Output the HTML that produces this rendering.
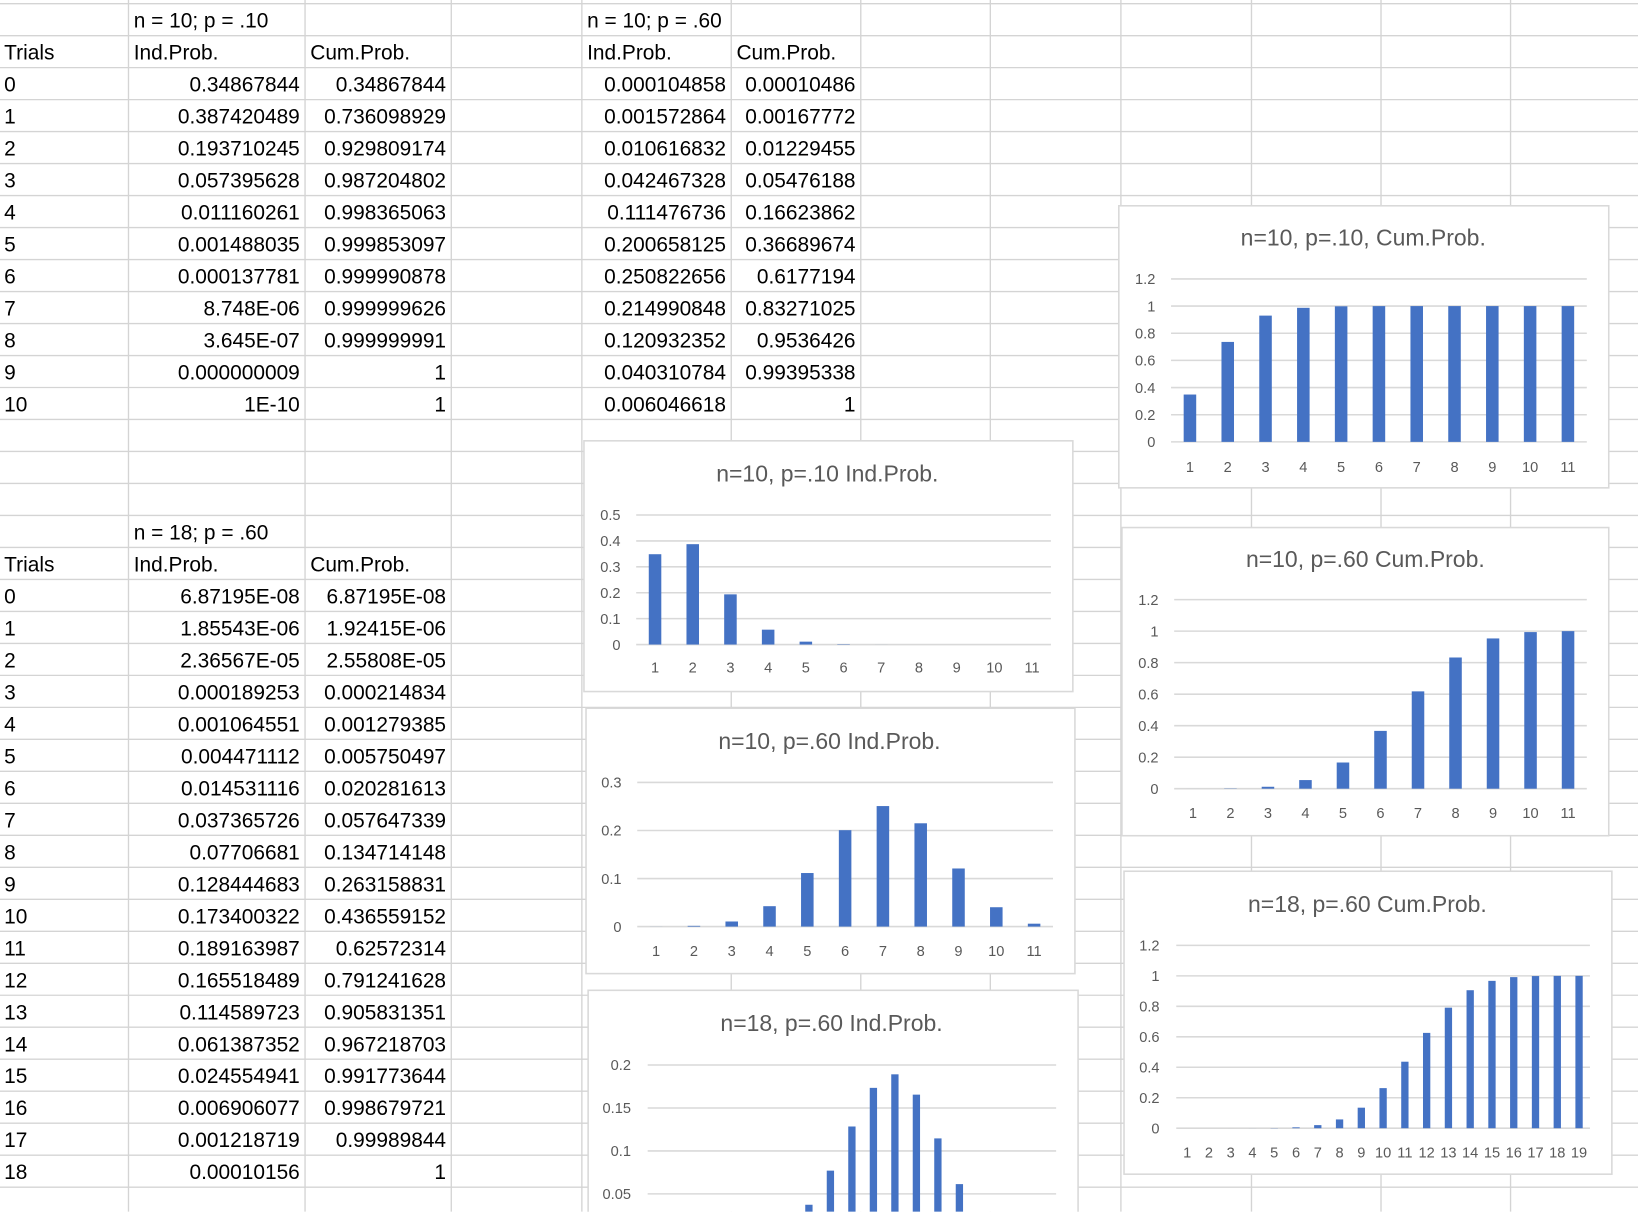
<!DOCTYPE html>
<html><head><meta charset="utf-8"><style>
html,body{margin:0;padding:0;background:#fff;overflow:hidden;width:1638px;height:1212px}
#root{position:absolute;left:0;top:0;width:1568px;height:1160px;transform:scale(1.04464);transform-origin:0 0;overflow:hidden}
svg{position:absolute;left:0;top:0}
text{font-family:"Liberation Sans",sans-serif}
</style></head><body>
<div id="root">
<svg id="s" width="1568" height="1160" viewBox="0 0 1568 1160" overflow="hidden"></svg>
</div>
<script>
// ---- table data ----
const trials10 = ["0","1","2","3","4","5","6","7","8","9","10"];
const ind10p10 = ["0.34867844","0.387420489","0.193710245","0.057395628","0.011160261","0.001488035","0.000137781","8.748E-06","3.645E-07","0.000000009","1E-10"];
const cum10p10 = ["0.34867844","0.736098929","0.929809174","0.987204802","0.998365063","0.999853097","0.999990878","0.999999626","0.999999991","1","1"];
const ind10p60 = ["0.000104858","0.001572864","0.010616832","0.042467328","0.111476736","0.200658125","0.250822656","0.214990848","0.120932352","0.040310784","0.006046618"];
const cum10p60 = ["0.00010486","0.00167772","0.01229455","0.05476188","0.16623862","0.36689674","0.6177194","0.83271025","0.9536426","0.99395338","1"];
const trials18 = ["0","1","2","3","4","5","6","7","8","9","10","11","12","13","14","15","16","17","18"];
const ind18p60 = ["6.87195E-08","1.85543E-06","2.36567E-05","0.000189253","0.001064551","0.004471112","0.014531116","0.037365726","0.07706681","0.128444683","0.173400322","0.189163987","0.165518489","0.114589723","0.061387352","0.024554941","0.006906077","0.001218719","0.00010156"];
const cum18p60 = ["6.87195E-08","1.92415E-06","2.55808E-05","0.000214834","0.001279385","0.005750497","0.020281613","0.057647339","0.134714148","0.263158831","0.436559152","0.62572314","0.791241628","0.905831351","0.967218703","0.991773644","0.998679721","0.99989844","1"];
// ---- chart data ----
const c1Values = [0.34867844,0.736098929,0.929809174,0.987204802,0.998365063,0.999853097,0.999990878,0.999999626,0.999999991,1,1];
const c2Values = [0.34867844,0.387420489,0.193710245,0.057395628,0.011160261,0.001488035,0.000137781,0.000008748,0.00000036,0.000000009,0.0000000001];
const c3Values = [0.000104858,0.001572864,0.010616832,0.042467328,0.111476736,0.200658125,0.250822656,0.214990848,0.120932352,0.040310784,0.006046618];
const c4Values = [0.0000000687,0.00000186,0.0000237,0.000189253,0.001064551,0.004471112,0.014531116,0.037365726,0.07706681,0.128444683,0.173400322,0.189163987,0.165518489,0.114589723,0.061387352,0.024554941,0.006906077,0.001218719,0.00010156];
const c5Values = [0.00010486,0.00167772,0.01229455,0.05476188,0.16623862,0.36689674,0.6177194,0.83271025,0.9536426,0.99395338,1];
const c6Values = [0.0000000687,0.00000192,0.0000256,0.000214834,0.001279385,0.005750497,0.020281613,0.057647339,0.134714148,0.263158831,0.436559152,0.62572314,0.791241628,0.905831351,0.967218703,0.991773644,0.998679721,0.99989844,1];
const ticksCum = ["0","0.2","0.4","0.6","0.8","1","1.2"];
const ticksInd10 = ["0","0.1","0.2","0.3","0.4","0.5"];
const ticksInd60 = ["0","0.1","0.2","0.3"];
const ticksInd18 = ["0","0.05","0.1","0.15","0.2"];

const NS="http://www.w3.org/2000/svg";
const svg=document.getElementById('s');
const LIMIT=1160;
function el(tag,attrs,parent){const e=document.createElementNS(NS,tag);for(const k in attrs)e.setAttribute(k,attrs[k]);(parent||svg).appendChild(e);return e;}

// grid
const colX=[123,292,432,557,700,824,948,1073,1198,1322,1446];
const RH=30.62, R0=3.5;
const grid=el('g',{});


colX.forEach(x=>el('line',{x1:x,y1:0,x2:x,y2:LIMIT,stroke:'#d4d4d4','stroke-width':1.3},grid));
for(let i=0;i<38;i++){const y=R0+i*RH;if(y<LIMIT)el('line',{x1:0,y1:y,x2:1568,y2:y,stroke:'#d4d4d4','stroke-width':1.3},grid);}

function cell(txt,row,x,anchor,name){
  const t=el('text',{x:x,y:R0+row*RH+23,'font-size':20,fill:'#000','text-anchor':anchor});
  t.textContent=txt;
  
  
}
// block 1
cell("n = 10; p = .10",0,128,'start','table1-title');
cell("Trials",1,4,'start','trials-header');
cell("Ind.Prob.",1,128,'start','ind-prob-header');
cell("Cum.Prob.",1,297,'start','cum-prob-header');
trials10.forEach((v,i)=>{cell(v,2+i,4,'start','trial-cell');cell(ind10p10[i],2+i,287,'end','ind-prob-cell');cell(cum10p10[i],2+i,427,'end','cum-prob-cell');});
// block 2
cell("n = 10; p = .60",0,562,'start','table2-title');
cell("Ind.Prob.",1,562,'start','ind-prob-header');
cell("Cum.Prob.",1,705,'start','cum-prob-header');
trials10.forEach((v,i)=>{cell(ind10p60[i],2+i,695,'end','ind-prob-cell');cell(cum10p60[i],2+i,819,'end','cum-prob-cell');});
// block 3
cell("n = 18; p = .60",16,128,'start','table3-title');
cell("Trials",17,4,'start','trials-header');
cell("Ind.Prob.",17,128,'start','ind-prob-header');
cell("Cum.Prob.",17,297,'start','cum-prob-header');
trials18.forEach((v,i)=>{cell(v,18+i,4,'start','trial-cell');cell(ind18p60[i],18+i,287,'end','ind-prob-cell');cell(cum18p60[i],18+i,427,'end','cum-prob-cell');});

// charts
function chart(o){
  const g=el('g',{});
  
  
  const bh=Math.min(o.bh,LIMIT+2-o.by);
  el('rect',{x:o.bx,y:o.by,width:o.bw,height:bh,fill:'#fff',stroke:'#d9d9d9','stroke-width':1.5},g);
  const t=el('text',{x:o.tx,y:o.ty+8,'font-size':22,fill:'#595959','text-anchor':'middle'},g);
  t.textContent=o.title;
  
  
  const ymax=parseFloat(o.ticks[o.ticks.length-1]);
  const yScale=v=>o.y0-(v/ymax)*(o.y0-o.ytop);
  o.ticks.forEach(tk=>{
    const y=yScale(parseFloat(tk));
    if(y>LIMIT-6)return;
    el('line',{x1:o.left,y1:y,x2:o.right,y2:y,stroke:'#d9d9d9','stroke-width':1.5},g);
    const l=el('text',{x:o.lx,y:y+5,'font-size':14,fill:'#595959','text-anchor':'end'},g);
    l.textContent=tk;
    
    
  });
  const n=o.values.length, step=(o.right-o.left)/n;
  const xScale=i=>o.left+(i+0.5)*step;
  o.values.forEach((v,i)=>{
    const cx=xScale(i), y=yScale(v);
    const bottom=Math.min(o.y0,LIMIT);
    const r=el('rect',{x:cx-o.bwid/2,y:y,width:o.bwid,height:Math.max(0,bottom-y),fill:'#4472c4'},g);
    
    
    if(o.xl<LIMIT){
      const l=el('text',{x:cx,y:o.xl+5,'font-size':14,fill:'#595959','text-anchor':'middle'},g);
      l.textContent=String(i+1);
      
      
    }
  });
}
chart({name:'chart-n10-p10-cum',bx:1071,by:197,bw:469,bh:270,title:'n=10, p=.10, Cum.Prob.',tx:1305,ty:227,ticks:ticksCum,y0:423,ytop:267,left:1121,right:1519,lx:1106,xl:447,values:c1Values,bwid:12});
chart({name:'chart-n10-p10-ind',bx:559,by:422,bw:468,bh:240,title:'n=10, p=.10 Ind.Prob.',tx:792,ty:453,ticks:ticksInd10,y0:617,ytop:493,left:609,right:1006,lx:594,xl:639,values:c2Values,bwid:12});
chart({name:'chart-n10-p60-ind',bx:561,by:678,bw:468,bh:254,title:'n=10, p=.60 Ind.Prob.',tx:794,ty:709,ticks:ticksInd60,y0:887,ytop:749,left:610,right:1008,lx:595,xl:910,values:c3Values,bwid:12});
chart({name:'chart-n18-p60-ind',bx:563,by:948,bw:469,bh:260,title:'n=18, p=.60 Ind.Prob.',tx:796,ty:979,ticks:ticksInd18,y0:1184,ytop:1019.5,left:620,right:1011,lx:604,xl:1210,values:c4Values,bwid:7});
chart({name:'chart-n10-p60-cum',bx:1074,by:505,bw:466,bh:295,title:'n=10, p=.60 Cum.Prob.',tx:1307,ty:535,ticks:ticksCum,y0:755,ytop:574,left:1124,right:1519,lx:1109,xl:778,values:c5Values,bwid:12});
chart({name:'chart-n18-p60-cum',bx:1076,by:834,bw:467,bh:290,title:'n=18, p=.60 Cum.Prob.',tx:1309,ty:865,ticks:ticksCum,y0:1080,ytop:905,left:1126,right:1522,lx:1110,xl:1103,values:c6Values,bwid:7});
</script>
</body></html>
